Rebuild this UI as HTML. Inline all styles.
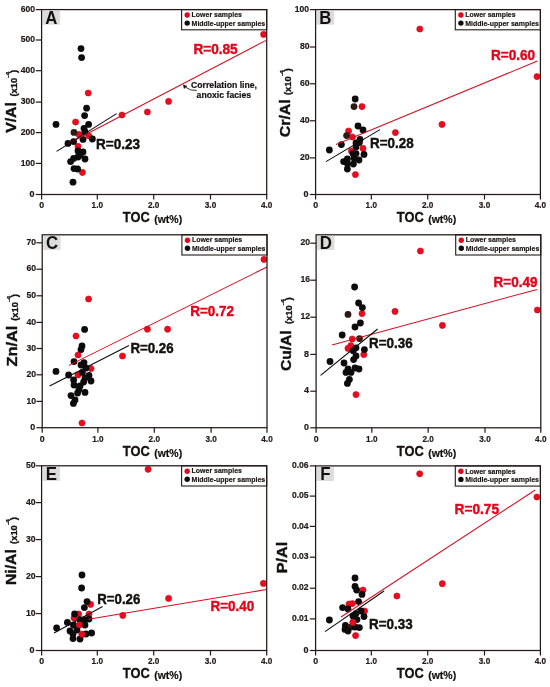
<!DOCTYPE html>
<html lang="en">
<head>
<meta charset="utf-8">
<title>Element/Al ratios versus TOC</title>
<style>
html,body{margin:0;padding:0;background:#fff;}
body{width:550px;height:687px;overflow:hidden;}
svg{display:block;font-family:"Liberation Sans", Arial, Helvetica, sans-serif;font-weight:bold;}
</style>
</head>
<body>
<svg width="550" height="687" viewBox="0 0 550 687">
<rect width="550" height="687" fill="#ffffff"/>
<rect x="41.6" y="9.6" width="225.1" height="184.9" fill="#fff"/>
<rect x="42.6" y="10.9" width="17.3" height="13.8" fill="#dcdcdc"/>
<text transform="translate(51.4 23.9) scale(0.96 1)" x="0" y="0" font-size="17.5" text-anchor="middle" fill="#15100f">A</text>
<line x1="35.8" y1="9.6" x2="41.6" y2="9.6" stroke="#231815" stroke-width="1.2"/>
<text x="35.1" y="11.8" font-size="9.2" fill="#231815" text-anchor="end" textLength="14.3" lengthAdjust="spacingAndGlyphs" stroke="#231815" stroke-width="0.2">600</text>
<line x1="35.8" y1="40.0" x2="41.6" y2="40.0" stroke="#231815" stroke-width="1.2"/>
<text x="35.1" y="42.2" font-size="9.2" fill="#231815" text-anchor="end" textLength="14.3" lengthAdjust="spacingAndGlyphs" stroke="#231815" stroke-width="0.2">500</text>
<line x1="35.8" y1="70.7" x2="41.6" y2="70.7" stroke="#231815" stroke-width="1.2"/>
<text x="35.1" y="72.9" font-size="9.2" fill="#231815" text-anchor="end" textLength="14.3" lengthAdjust="spacingAndGlyphs" stroke="#231815" stroke-width="0.2">400</text>
<line x1="35.8" y1="102.1" x2="41.6" y2="102.1" stroke="#231815" stroke-width="1.2"/>
<text x="35.1" y="104.3" font-size="9.2" fill="#231815" text-anchor="end" textLength="14.3" lengthAdjust="spacingAndGlyphs" stroke="#231815" stroke-width="0.2">300</text>
<line x1="35.8" y1="132.6" x2="41.6" y2="132.6" stroke="#231815" stroke-width="1.2"/>
<text x="35.1" y="134.8" font-size="9.2" fill="#231815" text-anchor="end" textLength="14.3" lengthAdjust="spacingAndGlyphs" stroke="#231815" stroke-width="0.2">200</text>
<line x1="35.8" y1="163.4" x2="41.6" y2="163.4" stroke="#231815" stroke-width="1.2"/>
<text x="35.1" y="165.6" font-size="9.2" fill="#231815" text-anchor="end" textLength="14.3" lengthAdjust="spacingAndGlyphs" stroke="#231815" stroke-width="0.2">100</text>
<line x1="35.8" y1="194.5" x2="41.6" y2="194.5" stroke="#231815" stroke-width="1.2"/>
<text x="34.6" y="196.7" font-size="9.2" fill="#231815" text-anchor="end" textLength="5.0" lengthAdjust="spacingAndGlyphs" stroke="#231815" stroke-width="0.2">0</text>
<line x1="41.6" y1="194.5" x2="41.6" y2="199.5" stroke="#231815" stroke-width="1.2"/>
<text x="41.6" y="207.9" font-size="9.2" fill="#231815" text-anchor="middle" textLength="4.9" lengthAdjust="spacingAndGlyphs" stroke="#231815" stroke-width="0.2">0</text>
<line x1="97.3" y1="194.5" x2="97.3" y2="199.5" stroke="#231815" stroke-width="1.2"/>
<text x="97.3" y="207.9" font-size="9.2" fill="#231815" text-anchor="middle" textLength="11.4" lengthAdjust="spacingAndGlyphs" stroke="#231815" stroke-width="0.2">1.0</text>
<line x1="153.7" y1="194.5" x2="153.7" y2="199.5" stroke="#231815" stroke-width="1.2"/>
<text x="153.7" y="207.9" font-size="9.2" fill="#231815" text-anchor="middle" textLength="11.4" lengthAdjust="spacingAndGlyphs" stroke="#231815" stroke-width="0.2">2.0</text>
<line x1="210.5" y1="194.5" x2="210.5" y2="199.5" stroke="#231815" stroke-width="1.2"/>
<text x="210.5" y="207.9" font-size="9.2" fill="#231815" text-anchor="middle" textLength="11.4" lengthAdjust="spacingAndGlyphs" stroke="#231815" stroke-width="0.2">3.0</text>
<line x1="266.7" y1="194.5" x2="266.7" y2="199.5" stroke="#231815" stroke-width="1.2"/>
<text x="266.7" y="207.9" font-size="9.2" fill="#231815" text-anchor="middle" textLength="11.4" lengthAdjust="spacingAndGlyphs" stroke="#231815" stroke-width="0.2">4.0</text>
<text x="122.8" y="221.9" font-size="14.0" fill="#15100f" textLength="26.9" lengthAdjust="spacingAndGlyphs" stroke="#15100f" stroke-width="0.3">TOC</text>
<text x="154.2" y="222.8" font-size="11" fill="#15100f" textLength="28.0" lengthAdjust="spacingAndGlyphs" stroke="#15100f" stroke-width="0.2">(wt%)</text>
<text x="15.7" y="132.8" font-size="15.2" fill="#15100f" textLength="30.7" lengthAdjust="spacingAndGlyphs" transform="rotate(-90 15.7 132.8)" stroke="#15100f" stroke-width="0.4">V/Al</text>
<g transform="translate(16.6 96.6) rotate(-90)" fill="#15100f" stroke="#15100f" stroke-width="0.3"><text x="0" y="0" font-size="9.0" textLength="18.7" lengthAdjust="spacingAndGlyphs">(x10</text><text x="18.7" y="-6.6" font-size="5.2" textLength="6.2" lengthAdjust="spacingAndGlyphs" stroke-width="0.2">-4</text><text x="23.6" y="0" font-size="9.0" textLength="3.3" lengthAdjust="spacingAndGlyphs">)</text></g>
<rect x="181.6" y="9.6" width="85.1" height="20.2" fill="#fff" stroke="#231815" stroke-width="1.1"/>
<circle cx="187.2" cy="15.0" r="2.7" fill="#e2051b"/>
<circle cx="187.2" cy="23.1" r="2.7" fill="#0d0b0b"/>
<text x="191.6" y="17.2" font-size="7.6" fill="#15100f" textLength="50.3" lengthAdjust="spacingAndGlyphs" stroke="#15100f" stroke-width="0.15">Lower samples</text>
<text x="191.6" y="25.8" font-size="7.6" fill="#15100f" textLength="73.6" lengthAdjust="spacingAndGlyphs" stroke="#15100f" stroke-width="0.15">Middle-upper samples</text>
<circle cx="88.2" cy="93.0" r="3.1" fill="#eb0a1e" stroke="#c8121f" stroke-width="0.6"/>
<circle cx="75.6" cy="122.0" r="3.1" fill="#eb0a1e" stroke="#c8121f" stroke-width="0.6"/>
<circle cx="79.0" cy="134.4" r="3.1" fill="#eb0a1e" stroke="#c8121f" stroke-width="0.6"/>
<circle cx="89.0" cy="136.0" r="3.1" fill="#eb0a1e" stroke="#c8121f" stroke-width="0.6"/>
<circle cx="78.0" cy="146.4" r="3.1" fill="#eb0a1e" stroke="#c8121f" stroke-width="0.6"/>
<circle cx="82.4" cy="172.4" r="3.1" fill="#eb0a1e" stroke="#c8121f" stroke-width="0.6"/>
<circle cx="122.0" cy="115.0" r="3.1" fill="#eb0a1e" stroke="#c8121f" stroke-width="0.6"/>
<circle cx="147.4" cy="112.0" r="3.1" fill="#eb0a1e" stroke="#c8121f" stroke-width="0.6"/>
<circle cx="168.6" cy="101.4" r="3.1" fill="#eb0a1e" stroke="#c8121f" stroke-width="0.6"/>
<circle cx="263.6" cy="34.4" r="3.1" fill="#eb0a1e" stroke="#c8121f" stroke-width="0.6"/>
<circle cx="81.0" cy="48.6" r="3.4" fill="#0d0b0b"/>
<circle cx="81.6" cy="57.6" r="3.4" fill="#0d0b0b"/>
<circle cx="86.6" cy="108.2" r="3.4" fill="#0d0b0b"/>
<circle cx="84.6" cy="115.6" r="3.4" fill="#0d0b0b"/>
<circle cx="56.0" cy="124.4" r="3.4" fill="#0d0b0b"/>
<circle cx="88.6" cy="124.4" r="3.4" fill="#0d0b0b"/>
<circle cx="84.0" cy="128.4" r="3.4" fill="#0d0b0b"/>
<circle cx="74.0" cy="132.4" r="3.4" fill="#2c1a15"/>
<circle cx="85.0" cy="132.0" r="3.4" fill="#0d0b0b"/>
<circle cx="92.4" cy="139.0" r="3.4" fill="#0d0b0b"/>
<circle cx="83.0" cy="139.4" r="3.4" fill="#0d0b0b"/>
<circle cx="73.6" cy="141.6" r="3.4" fill="#0d0b0b"/>
<circle cx="68.0" cy="143.4" r="3.4" fill="#0d0b0b"/>
<circle cx="78.0" cy="151.0" r="3.4" fill="#0d0b0b"/>
<circle cx="83.0" cy="152.0" r="3.4" fill="#0d0b0b"/>
<circle cx="80.0" cy="155.0" r="3.4" fill="#0d0b0b"/>
<circle cx="78.0" cy="157.0" r="3.4" fill="#0d0b0b"/>
<circle cx="85.0" cy="159.0" r="3.4" fill="#0d0b0b"/>
<circle cx="73.6" cy="158.4" r="3.4" fill="#0d0b0b"/>
<circle cx="70.6" cy="161.6" r="3.4" fill="#0d0b0b"/>
<circle cx="74.0" cy="168.6" r="3.4" fill="#0d0b0b"/>
<circle cx="77.6" cy="169.0" r="3.4" fill="#0d0b0b"/>
<circle cx="73.0" cy="182.2" r="3.4" fill="#0d0b0b"/>
<line x1="68.5" y1="143.5" x2="266.0" y2="40.4" stroke="#d40f1f" stroke-width="1.05"/>
<line x1="56.6" y1="151.4" x2="116.6" y2="113.6" stroke="#0d0b0b" stroke-width="1.1"/>
<rect x="41.6" y="9.6" width="225.1" height="184.9" fill="none" stroke="#231815" stroke-width="1.25"/>
<text x="193.4" y="53.6" font-size="15" fill="#e2051b" textLength="44.2" lengthAdjust="spacingAndGlyphs" stroke="#e2051b" stroke-width="0.45">R=0.85</text>
<text x="96.0" y="149.2" font-size="15" fill="#15100f" textLength="44.0" lengthAdjust="spacingAndGlyphs" stroke="#15100f" stroke-width="0.45">R=0.23</text>
<text x="191.0" y="88.0" font-size="8.9" fill="#15100f" textLength="66.0" lengthAdjust="spacingAndGlyphs" stroke="#15100f" stroke-width="0.2">Correlation line,</text>
<text x="196.6" y="98.4" font-size="8.9" fill="#15100f" textLength="54.5" lengthAdjust="spacingAndGlyphs" stroke="#15100f" stroke-width="0.2">anoxic facies</text>
<path d="M196.8 90.5 Q189.6 90.7 185.7 87.3" fill="none" stroke="#231815" stroke-width="0.9"/>
<path d="M182.9 84.5 L187.4 85.9 L184.0 88.9 Z" fill="#231815"/>
<rect x="315.6" y="9.6" width="224.8" height="184.9" fill="#fff"/>
<rect x="316.6" y="10.9" width="17.3" height="13.8" fill="#dcdcdc"/>
<text transform="translate(325.4 23.9) scale(0.96 1)" x="0" y="0" font-size="17.5" text-anchor="middle" fill="#15100f">B</text>
<line x1="309.8" y1="9.6" x2="315.6" y2="9.6" stroke="#231815" stroke-width="1.2"/>
<text x="309.1" y="11.8" font-size="9.2" fill="#231815" text-anchor="end" textLength="14.3" lengthAdjust="spacingAndGlyphs" stroke="#231815" stroke-width="0.2">100</text>
<line x1="309.8" y1="47.0" x2="315.6" y2="47.0" stroke="#231815" stroke-width="1.2"/>
<text x="309.5" y="49.2" font-size="9.2" fill="#231815" text-anchor="end" textLength="9.6" lengthAdjust="spacingAndGlyphs" stroke="#231815" stroke-width="0.2">80</text>
<line x1="309.8" y1="83.8" x2="315.6" y2="83.8" stroke="#231815" stroke-width="1.2"/>
<text x="309.5" y="86.0" font-size="9.2" fill="#231815" text-anchor="end" textLength="9.6" lengthAdjust="spacingAndGlyphs" stroke="#231815" stroke-width="0.2">60</text>
<line x1="309.8" y1="120.8" x2="315.6" y2="120.8" stroke="#231815" stroke-width="1.2"/>
<text x="309.5" y="123.0" font-size="9.2" fill="#231815" text-anchor="end" textLength="9.6" lengthAdjust="spacingAndGlyphs" stroke="#231815" stroke-width="0.2">40</text>
<line x1="309.8" y1="157.9" x2="315.6" y2="157.9" stroke="#231815" stroke-width="1.2"/>
<text x="309.5" y="160.1" font-size="9.2" fill="#231815" text-anchor="end" textLength="9.6" lengthAdjust="spacingAndGlyphs" stroke="#231815" stroke-width="0.2">20</text>
<line x1="309.8" y1="194.5" x2="315.6" y2="194.5" stroke="#231815" stroke-width="1.2"/>
<text x="308.6" y="196.7" font-size="9.2" fill="#231815" text-anchor="end" textLength="5.0" lengthAdjust="spacingAndGlyphs" stroke="#231815" stroke-width="0.2">0</text>
<line x1="315.6" y1="194.5" x2="315.6" y2="199.5" stroke="#231815" stroke-width="1.2"/>
<text x="315.6" y="207.9" font-size="9.2" fill="#231815" text-anchor="middle" textLength="4.9" lengthAdjust="spacingAndGlyphs" stroke="#231815" stroke-width="0.2">0</text>
<line x1="371.3" y1="194.5" x2="371.3" y2="199.5" stroke="#231815" stroke-width="1.2"/>
<text x="371.3" y="207.9" font-size="9.2" fill="#231815" text-anchor="middle" textLength="11.4" lengthAdjust="spacingAndGlyphs" stroke="#231815" stroke-width="0.2">1.0</text>
<line x1="427.7" y1="194.5" x2="427.7" y2="199.5" stroke="#231815" stroke-width="1.2"/>
<text x="427.7" y="207.9" font-size="9.2" fill="#231815" text-anchor="middle" textLength="11.4" lengthAdjust="spacingAndGlyphs" stroke="#231815" stroke-width="0.2">2.0</text>
<line x1="484.5" y1="194.5" x2="484.5" y2="199.5" stroke="#231815" stroke-width="1.2"/>
<text x="484.5" y="207.9" font-size="9.2" fill="#231815" text-anchor="middle" textLength="11.4" lengthAdjust="spacingAndGlyphs" stroke="#231815" stroke-width="0.2">3.0</text>
<line x1="540.4" y1="194.5" x2="540.4" y2="199.5" stroke="#231815" stroke-width="1.2"/>
<text x="540.4" y="207.9" font-size="9.2" fill="#231815" text-anchor="middle" textLength="11.4" lengthAdjust="spacingAndGlyphs" stroke="#231815" stroke-width="0.2">4.0</text>
<text x="396.8" y="221.9" font-size="14.0" fill="#15100f" textLength="26.9" lengthAdjust="spacingAndGlyphs" stroke="#15100f" stroke-width="0.3">TOC</text>
<text x="428.2" y="222.8" font-size="11" fill="#15100f" textLength="28.0" lengthAdjust="spacingAndGlyphs" stroke="#15100f" stroke-width="0.2">(wt%)</text>
<text x="289.7" y="137.3" font-size="15.2" fill="#15100f" textLength="38.1" lengthAdjust="spacingAndGlyphs" transform="rotate(-90 289.7 137.3)" stroke="#15100f" stroke-width="0.4">Cr/Al</text>
<g transform="translate(290.6 95.0) rotate(-90)" fill="#15100f" stroke="#15100f" stroke-width="0.3"><text x="0" y="0" font-size="9.0" textLength="18.7" lengthAdjust="spacingAndGlyphs">(x10</text><text x="18.7" y="-6.6" font-size="5.2" textLength="6.2" lengthAdjust="spacingAndGlyphs" stroke-width="0.2">-4</text><text x="23.6" y="0" font-size="9.0" textLength="3.3" lengthAdjust="spacingAndGlyphs">)</text></g>
<rect x="455.3" y="9.6" width="85.1" height="20.2" fill="#fff" stroke="#231815" stroke-width="1.1"/>
<circle cx="460.9" cy="15.0" r="2.7" fill="#e2051b"/>
<circle cx="460.9" cy="23.1" r="2.7" fill="#0d0b0b"/>
<text x="465.3" y="17.2" font-size="7.6" fill="#15100f" textLength="50.3" lengthAdjust="spacingAndGlyphs" stroke="#15100f" stroke-width="0.15">Lower samples</text>
<text x="465.3" y="25.8" font-size="7.6" fill="#15100f" textLength="73.6" lengthAdjust="spacingAndGlyphs" stroke="#15100f" stroke-width="0.15">Middle-upper samples</text>
<circle cx="362.0" cy="106.6" r="3.1" fill="#eb0a1e" stroke="#c8121f" stroke-width="0.6"/>
<circle cx="348.6" cy="131.0" r="3.1" fill="#eb0a1e" stroke="#c8121f" stroke-width="0.6"/>
<circle cx="352.4" cy="137.0" r="3.1" fill="#eb0a1e" stroke="#c8121f" stroke-width="0.6"/>
<circle cx="363.0" cy="148.4" r="3.1" fill="#eb0a1e" stroke="#c8121f" stroke-width="0.6"/>
<circle cx="351.4" cy="151.0" r="3.1" fill="#eb0a1e" stroke="#c8121f" stroke-width="0.6"/>
<circle cx="355.4" cy="174.6" r="3.1" fill="#eb0a1e" stroke="#c8121f" stroke-width="0.6"/>
<circle cx="395.4" cy="132.6" r="3.1" fill="#eb0a1e" stroke="#c8121f" stroke-width="0.6"/>
<circle cx="419.8" cy="29.0" r="3.1" fill="#eb0a1e" stroke="#c8121f" stroke-width="0.6"/>
<circle cx="442.0" cy="124.4" r="3.1" fill="#eb0a1e" stroke="#c8121f" stroke-width="0.6"/>
<circle cx="537.0" cy="76.6" r="3.1" fill="#eb0a1e" stroke="#c8121f" stroke-width="0.6"/>
<circle cx="355.2" cy="99.0" r="3.4" fill="#0d0b0b"/>
<circle cx="354.0" cy="106.6" r="3.4" fill="#2c1a15"/>
<circle cx="358.0" cy="126.0" r="3.4" fill="#0d0b0b"/>
<circle cx="363.0" cy="130.0" r="3.4" fill="#0d0b0b"/>
<circle cx="346.6" cy="135.6" r="3.4" fill="#2c1a15"/>
<circle cx="360.0" cy="139.4" r="3.4" fill="#0d0b0b"/>
<circle cx="359.4" cy="142.6" r="3.4" fill="#0d0b0b"/>
<circle cx="356.0" cy="143.0" r="3.4" fill="#0d0b0b"/>
<circle cx="341.4" cy="144.6" r="3.4" fill="#0d0b0b"/>
<circle cx="356.0" cy="147.0" r="3.4" fill="#0d0b0b"/>
<circle cx="329.4" cy="150.0" r="3.4" fill="#0d0b0b"/>
<circle cx="353.0" cy="153.6" r="3.4" fill="#0d0b0b"/>
<circle cx="356.0" cy="153.6" r="3.4" fill="#0d0b0b"/>
<circle cx="364.0" cy="154.4" r="3.4" fill="#0d0b0b"/>
<circle cx="354.0" cy="158.0" r="3.4" fill="#0d0b0b"/>
<circle cx="347.4" cy="159.0" r="3.4" fill="#0d0b0b"/>
<circle cx="359.0" cy="160.0" r="3.4" fill="#0d0b0b"/>
<circle cx="343.6" cy="161.6" r="3.4" fill="#0d0b0b"/>
<circle cx="347.4" cy="163.6" r="3.4" fill="#0d0b0b"/>
<circle cx="353.4" cy="164.0" r="3.4" fill="#0d0b0b"/>
<circle cx="347.4" cy="169.0" r="3.4" fill="#0d0b0b"/>
<line x1="336.0" y1="144.6" x2="537.4" y2="61.0" stroke="#d40f1f" stroke-width="1.05"/>
<line x1="326.0" y1="161.6" x2="380.0" y2="129.6" stroke="#0d0b0b" stroke-width="1.1"/>
<rect x="315.6" y="9.6" width="224.8" height="184.9" fill="none" stroke="#231815" stroke-width="1.25"/>
<text x="490.9" y="60.0" font-size="15" fill="#e2051b" textLength="44.2" lengthAdjust="spacingAndGlyphs" stroke="#e2051b" stroke-width="0.45">R=0.60</text>
<text x="370.0" y="148.4" font-size="15" fill="#15100f" textLength="43.6" lengthAdjust="spacingAndGlyphs" stroke="#15100f" stroke-width="0.45">R=0.28</text>
<rect x="42.2" y="234.8" width="224.8" height="192.9" fill="#fff"/>
<rect x="43.2" y="236.1" width="17.3" height="13.8" fill="#dcdcdc"/>
<text transform="translate(52.0 249.1) scale(0.96 1)" x="0" y="0" font-size="17.5" text-anchor="middle" fill="#15100f">C</text>
<line x1="36.4" y1="242.8" x2="42.2" y2="242.8" stroke="#231815" stroke-width="1.2"/>
<text x="36.1" y="245.0" font-size="9.2" fill="#231815" text-anchor="end" textLength="9.6" lengthAdjust="spacingAndGlyphs" stroke="#231815" stroke-width="0.2">70</text>
<line x1="36.4" y1="269.2" x2="42.2" y2="269.2" stroke="#231815" stroke-width="1.2"/>
<text x="36.1" y="271.4" font-size="9.2" fill="#231815" text-anchor="end" textLength="9.6" lengthAdjust="spacingAndGlyphs" stroke="#231815" stroke-width="0.2">60</text>
<line x1="36.4" y1="295.8" x2="42.2" y2="295.8" stroke="#231815" stroke-width="1.2"/>
<text x="36.1" y="298.0" font-size="9.2" fill="#231815" text-anchor="end" textLength="9.6" lengthAdjust="spacingAndGlyphs" stroke="#231815" stroke-width="0.2">50</text>
<line x1="36.4" y1="322.4" x2="42.2" y2="322.4" stroke="#231815" stroke-width="1.2"/>
<text x="36.1" y="324.6" font-size="9.2" fill="#231815" text-anchor="end" textLength="9.6" lengthAdjust="spacingAndGlyphs" stroke="#231815" stroke-width="0.2">40</text>
<line x1="36.4" y1="348.5" x2="42.2" y2="348.5" stroke="#231815" stroke-width="1.2"/>
<text x="36.1" y="350.7" font-size="9.2" fill="#231815" text-anchor="end" textLength="9.6" lengthAdjust="spacingAndGlyphs" stroke="#231815" stroke-width="0.2">30</text>
<line x1="36.4" y1="374.8" x2="42.2" y2="374.8" stroke="#231815" stroke-width="1.2"/>
<text x="36.1" y="377.0" font-size="9.2" fill="#231815" text-anchor="end" textLength="9.6" lengthAdjust="spacingAndGlyphs" stroke="#231815" stroke-width="0.2">20</text>
<line x1="36.4" y1="401.4" x2="42.2" y2="401.4" stroke="#231815" stroke-width="1.2"/>
<text x="36.1" y="403.6" font-size="9.2" fill="#231815" text-anchor="end" textLength="9.6" lengthAdjust="spacingAndGlyphs" stroke="#231815" stroke-width="0.2">10</text>
<line x1="36.4" y1="427.7" x2="42.2" y2="427.7" stroke="#231815" stroke-width="1.2"/>
<text x="35.2" y="429.9" font-size="9.2" fill="#231815" text-anchor="end" textLength="5.0" lengthAdjust="spacingAndGlyphs" stroke="#231815" stroke-width="0.2">0</text>
<line x1="42.2" y1="427.7" x2="42.2" y2="432.7" stroke="#231815" stroke-width="1.2"/>
<text x="42.2" y="441.6" font-size="9.2" fill="#231815" text-anchor="middle" textLength="4.9" lengthAdjust="spacingAndGlyphs" stroke="#231815" stroke-width="0.2">0</text>
<line x1="97.9" y1="427.7" x2="97.9" y2="432.7" stroke="#231815" stroke-width="1.2"/>
<text x="97.9" y="441.6" font-size="9.2" fill="#231815" text-anchor="middle" textLength="11.4" lengthAdjust="spacingAndGlyphs" stroke="#231815" stroke-width="0.2">1.0</text>
<line x1="154.3" y1="427.7" x2="154.3" y2="432.7" stroke="#231815" stroke-width="1.2"/>
<text x="154.3" y="441.6" font-size="9.2" fill="#231815" text-anchor="middle" textLength="11.4" lengthAdjust="spacingAndGlyphs" stroke="#231815" stroke-width="0.2">2.0</text>
<line x1="211.1" y1="427.7" x2="211.1" y2="432.7" stroke="#231815" stroke-width="1.2"/>
<text x="211.1" y="441.6" font-size="9.2" fill="#231815" text-anchor="middle" textLength="11.4" lengthAdjust="spacingAndGlyphs" stroke="#231815" stroke-width="0.2">3.0</text>
<line x1="267.0" y1="427.7" x2="267.0" y2="432.7" stroke="#231815" stroke-width="1.2"/>
<text x="267.0" y="441.6" font-size="9.2" fill="#231815" text-anchor="middle" textLength="11.4" lengthAdjust="spacingAndGlyphs" stroke="#231815" stroke-width="0.2">4.0</text>
<text x="122.8" y="456.3" font-size="14.0" fill="#15100f" textLength="26.9" lengthAdjust="spacingAndGlyphs" stroke="#15100f" stroke-width="0.3">TOC</text>
<text x="154.2" y="457.2" font-size="11" fill="#15100f" textLength="28.0" lengthAdjust="spacingAndGlyphs" stroke="#15100f" stroke-width="0.2">(wt%)</text>
<text x="16.7" y="366.5" font-size="15.2" fill="#15100f" textLength="40.9" lengthAdjust="spacingAndGlyphs" transform="rotate(-90 16.7 366.5)" stroke="#15100f" stroke-width="0.4">Zn/Al</text>
<g transform="translate(17.6 320.8) rotate(-90)" fill="#15100f" stroke="#15100f" stroke-width="0.3"><text x="0" y="0" font-size="9.0" textLength="18.7" lengthAdjust="spacingAndGlyphs">(x10</text><text x="18.7" y="-6.6" font-size="5.2" textLength="6.2" lengthAdjust="spacingAndGlyphs" stroke-width="0.2">-4</text><text x="23.6" y="0" font-size="9.0" textLength="3.3" lengthAdjust="spacingAndGlyphs">)</text></g>
<rect x="181.9" y="234.8" width="85.1" height="20.2" fill="#fff" stroke="#231815" stroke-width="1.1"/>
<circle cx="187.5" cy="240.2" r="2.7" fill="#e2051b"/>
<circle cx="187.5" cy="248.3" r="2.7" fill="#0d0b0b"/>
<text x="191.9" y="242.4" font-size="7.6" fill="#15100f" textLength="50.3" lengthAdjust="spacingAndGlyphs" stroke="#15100f" stroke-width="0.15">Lower samples</text>
<text x="191.9" y="251.0" font-size="7.6" fill="#15100f" textLength="73.6" lengthAdjust="spacingAndGlyphs" stroke="#15100f" stroke-width="0.15">Middle-upper samples</text>
<circle cx="88.6" cy="299.0" r="3.1" fill="#eb0a1e" stroke="#c8121f" stroke-width="0.6"/>
<circle cx="76.0" cy="336.0" r="3.1" fill="#eb0a1e" stroke="#c8121f" stroke-width="0.6"/>
<circle cx="78.0" cy="355.0" r="3.1" fill="#eb0a1e" stroke="#c8121f" stroke-width="0.6"/>
<circle cx="91.0" cy="368.6" r="3.1" fill="#eb0a1e" stroke="#c8121f" stroke-width="0.6"/>
<circle cx="78.0" cy="375.0" r="3.1" fill="#eb0a1e" stroke="#c8121f" stroke-width="0.6"/>
<circle cx="82.0" cy="423.0" r="3.1" fill="#eb0a1e" stroke="#c8121f" stroke-width="0.6"/>
<circle cx="122.5" cy="356.0" r="3.1" fill="#eb0a1e" stroke="#c8121f" stroke-width="0.6"/>
<circle cx="147.4" cy="329.2" r="3.1" fill="#eb0a1e" stroke="#c8121f" stroke-width="0.6"/>
<circle cx="167.6" cy="329.2" r="3.1" fill="#eb0a1e" stroke="#c8121f" stroke-width="0.6"/>
<circle cx="264.0" cy="259.4" r="3.1" fill="#eb0a1e" stroke="#c8121f" stroke-width="0.6"/>
<circle cx="84.6" cy="329.4" r="3.4" fill="#0d0b0b"/>
<circle cx="82.0" cy="346.0" r="3.4" fill="#0d0b0b"/>
<circle cx="81.0" cy="349.6" r="3.4" fill="#0d0b0b"/>
<circle cx="74.0" cy="361.6" r="3.4" fill="#0d0b0b"/>
<circle cx="84.0" cy="362.6" r="3.4" fill="#0d0b0b"/>
<circle cx="81.0" cy="365.0" r="3.4" fill="#0d0b0b"/>
<circle cx="86.0" cy="368.0" r="3.4" fill="#0d0b0b"/>
<circle cx="56.0" cy="371.4" r="3.4" fill="#0d0b0b"/>
<circle cx="82.4" cy="372.4" r="3.4" fill="#0d0b0b"/>
<circle cx="68.6" cy="375.0" r="3.4" fill="#0d0b0b"/>
<circle cx="89.0" cy="375.4" r="3.4" fill="#0d0b0b"/>
<circle cx="85.0" cy="378.0" r="3.4" fill="#0d0b0b"/>
<circle cx="73.6" cy="380.0" r="3.4" fill="#0d0b0b"/>
<circle cx="91.0" cy="381.0" r="3.4" fill="#0d0b0b"/>
<circle cx="83.6" cy="382.0" r="3.4" fill="#0d0b0b"/>
<circle cx="74.0" cy="385.0" r="3.4" fill="#0d0b0b"/>
<circle cx="80.0" cy="386.0" r="3.4" fill="#0d0b0b"/>
<circle cx="79.0" cy="389.4" r="3.4" fill="#0d0b0b"/>
<circle cx="85.0" cy="392.4" r="3.4" fill="#0d0b0b"/>
<circle cx="77.6" cy="393.0" r="3.4" fill="#0d0b0b"/>
<circle cx="71.0" cy="395.6" r="3.4" fill="#0d0b0b"/>
<circle cx="75.0" cy="400.0" r="3.4" fill="#0d0b0b"/>
<circle cx="73.4" cy="403.4" r="3.4" fill="#0d0b0b"/>
<line x1="69.0" y1="365.4" x2="267.0" y2="267.0" stroke="#d40f1f" stroke-width="1.05"/>
<line x1="49.6" y1="386.0" x2="129.0" y2="345.6" stroke="#0d0b0b" stroke-width="1.1"/>
<rect x="42.2" y="234.8" width="224.8" height="192.9" fill="none" stroke="#231815" stroke-width="1.25"/>
<text x="190.2" y="316.2" font-size="15" fill="#e2051b" textLength="43.7" lengthAdjust="spacingAndGlyphs" stroke="#e2051b" stroke-width="0.45">R=0.72</text>
<text x="130.4" y="353.1" font-size="15" fill="#15100f" textLength="43.2" lengthAdjust="spacingAndGlyphs" stroke="#15100f" stroke-width="0.45">R=0.26</text>
<rect x="316.1" y="234.8" width="224.7" height="193.0" fill="#fff"/>
<rect x="317.1" y="236.1" width="17.3" height="13.8" fill="#dcdcdc"/>
<text transform="translate(325.9 249.1) scale(0.96 1)" x="0" y="0" font-size="17.5" text-anchor="middle" fill="#15100f">D</text>
<line x1="310.3" y1="243.2" x2="316.1" y2="243.2" stroke="#231815" stroke-width="1.2"/>
<text x="310.0" y="245.4" font-size="9.2" fill="#231815" text-anchor="end" textLength="9.6" lengthAdjust="spacingAndGlyphs" stroke="#231815" stroke-width="0.2">20</text>
<line x1="310.3" y1="280.2" x2="316.1" y2="280.2" stroke="#231815" stroke-width="1.2"/>
<text x="310.0" y="282.4" font-size="9.2" fill="#231815" text-anchor="end" textLength="9.6" lengthAdjust="spacingAndGlyphs" stroke="#231815" stroke-width="0.2">16</text>
<line x1="310.3" y1="317.2" x2="316.1" y2="317.2" stroke="#231815" stroke-width="1.2"/>
<text x="310.0" y="319.4" font-size="9.2" fill="#231815" text-anchor="end" textLength="9.6" lengthAdjust="spacingAndGlyphs" stroke="#231815" stroke-width="0.2">12</text>
<line x1="310.3" y1="354.4" x2="316.1" y2="354.4" stroke="#231815" stroke-width="1.2"/>
<text x="309.1" y="356.6" font-size="9.2" fill="#231815" text-anchor="end" textLength="5.0" lengthAdjust="spacingAndGlyphs" stroke="#231815" stroke-width="0.2">8</text>
<line x1="310.3" y1="391.2" x2="316.1" y2="391.2" stroke="#231815" stroke-width="1.2"/>
<text x="309.1" y="393.4" font-size="9.2" fill="#231815" text-anchor="end" textLength="5.0" lengthAdjust="spacingAndGlyphs" stroke="#231815" stroke-width="0.2">4</text>
<line x1="310.3" y1="427.8" x2="316.1" y2="427.8" stroke="#231815" stroke-width="1.2"/>
<text x="309.1" y="430.0" font-size="9.2" fill="#231815" text-anchor="end" textLength="5.0" lengthAdjust="spacingAndGlyphs" stroke="#231815" stroke-width="0.2">0</text>
<line x1="316.1" y1="427.8" x2="316.1" y2="432.8" stroke="#231815" stroke-width="1.2"/>
<text x="316.1" y="441.6" font-size="9.2" fill="#231815" text-anchor="middle" textLength="4.9" lengthAdjust="spacingAndGlyphs" stroke="#231815" stroke-width="0.2">0</text>
<line x1="371.8" y1="427.8" x2="371.8" y2="432.8" stroke="#231815" stroke-width="1.2"/>
<text x="371.8" y="441.6" font-size="9.2" fill="#231815" text-anchor="middle" textLength="11.4" lengthAdjust="spacingAndGlyphs" stroke="#231815" stroke-width="0.2">1.0</text>
<line x1="428.2" y1="427.8" x2="428.2" y2="432.8" stroke="#231815" stroke-width="1.2"/>
<text x="428.2" y="441.6" font-size="9.2" fill="#231815" text-anchor="middle" textLength="11.4" lengthAdjust="spacingAndGlyphs" stroke="#231815" stroke-width="0.2">2.0</text>
<line x1="485.0" y1="427.8" x2="485.0" y2="432.8" stroke="#231815" stroke-width="1.2"/>
<text x="485.0" y="441.6" font-size="9.2" fill="#231815" text-anchor="middle" textLength="11.4" lengthAdjust="spacingAndGlyphs" stroke="#231815" stroke-width="0.2">3.0</text>
<line x1="540.8" y1="427.8" x2="540.8" y2="432.8" stroke="#231815" stroke-width="1.2"/>
<text x="540.8" y="441.6" font-size="9.2" fill="#231815" text-anchor="middle" textLength="11.4" lengthAdjust="spacingAndGlyphs" stroke="#231815" stroke-width="0.2">4.0</text>
<text x="396.8" y="456.3" font-size="14.0" fill="#15100f" textLength="26.9" lengthAdjust="spacingAndGlyphs" stroke="#15100f" stroke-width="0.3">TOC</text>
<text x="428.2" y="457.2" font-size="11" fill="#15100f" textLength="28.0" lengthAdjust="spacingAndGlyphs" stroke="#15100f" stroke-width="0.2">(wt%)</text>
<text x="290.6" y="371.0" font-size="15.2" fill="#15100f" textLength="40.7" lengthAdjust="spacingAndGlyphs" transform="rotate(-90 290.6 371.0)" stroke="#15100f" stroke-width="0.4">Cu/Al</text>
<g transform="translate(291.5 324.1) rotate(-90)" fill="#15100f" stroke="#15100f" stroke-width="0.3"><text x="0" y="0" font-size="9.0" textLength="18.7" lengthAdjust="spacingAndGlyphs">(x10</text><text x="18.7" y="-6.6" font-size="5.2" textLength="6.2" lengthAdjust="spacingAndGlyphs" stroke-width="0.2">-4</text><text x="23.6" y="0" font-size="9.0" textLength="3.3" lengthAdjust="spacingAndGlyphs">)</text></g>
<rect x="455.7" y="234.8" width="85.1" height="20.2" fill="#fff" stroke="#231815" stroke-width="1.1"/>
<circle cx="461.3" cy="240.2" r="2.7" fill="#e2051b"/>
<circle cx="461.3" cy="248.3" r="2.7" fill="#0d0b0b"/>
<text x="465.7" y="242.4" font-size="7.6" fill="#15100f" textLength="50.3" lengthAdjust="spacingAndGlyphs" stroke="#15100f" stroke-width="0.15">Lower samples</text>
<text x="465.7" y="251.0" font-size="7.6" fill="#15100f" textLength="73.6" lengthAdjust="spacingAndGlyphs" stroke="#15100f" stroke-width="0.15">Middle-upper samples</text>
<circle cx="362.0" cy="313.6" r="3.1" fill="#eb0a1e" stroke="#c8121f" stroke-width="0.6"/>
<circle cx="352.2" cy="339.0" r="3.1" fill="#eb0a1e" stroke="#c8121f" stroke-width="0.6"/>
<circle cx="350.8" cy="345.5" r="3.1" fill="#eb0a1e" stroke="#c8121f" stroke-width="0.6"/>
<circle cx="348.0" cy="348.4" r="3.1" fill="#eb0a1e" stroke="#c8121f" stroke-width="0.6"/>
<circle cx="363.8" cy="354.6" r="3.1" fill="#eb0a1e" stroke="#c8121f" stroke-width="0.6"/>
<circle cx="356.0" cy="394.6" r="3.1" fill="#eb0a1e" stroke="#c8121f" stroke-width="0.6"/>
<circle cx="395.0" cy="311.4" r="3.1" fill="#eb0a1e" stroke="#c8121f" stroke-width="0.6"/>
<circle cx="420.4" cy="251.0" r="3.1" fill="#eb0a1e" stroke="#c8121f" stroke-width="0.6"/>
<circle cx="442.4" cy="325.4" r="3.1" fill="#eb0a1e" stroke="#c8121f" stroke-width="0.6"/>
<circle cx="537.4" cy="310.0" r="3.1" fill="#eb0a1e" stroke="#c8121f" stroke-width="0.6"/>
<circle cx="354.6" cy="287.0" r="3.4" fill="#0d0b0b"/>
<circle cx="358.6" cy="303.0" r="3.4" fill="#0d0b0b"/>
<circle cx="362.4" cy="307.6" r="3.4" fill="#0d0b0b"/>
<circle cx="348.0" cy="314.4" r="3.4" fill="#2c1a15"/>
<circle cx="360.4" cy="323.0" r="3.4" fill="#0d0b0b"/>
<circle cx="355.0" cy="327.0" r="3.4" fill="#0d0b0b"/>
<circle cx="342.2" cy="335.0" r="3.4" fill="#0d0b0b"/>
<circle cx="359.5" cy="338.6" r="3.4" fill="#2c1a15"/>
<circle cx="356.0" cy="347.8" r="3.4" fill="#0d0b0b"/>
<circle cx="364.4" cy="349.6" r="3.4" fill="#0d0b0b"/>
<circle cx="353.2" cy="350.8" r="3.4" fill="#0d0b0b"/>
<circle cx="356.0" cy="356.0" r="3.4" fill="#0d0b0b"/>
<circle cx="330.0" cy="361.5" r="3.4" fill="#0d0b0b"/>
<circle cx="353.6" cy="359.6" r="3.4" fill="#0d0b0b"/>
<circle cx="344.0" cy="363.0" r="3.4" fill="#0d0b0b"/>
<circle cx="348.0" cy="369.0" r="3.4" fill="#0d0b0b"/>
<circle cx="355.0" cy="368.0" r="3.4" fill="#0d0b0b"/>
<circle cx="359.0" cy="369.0" r="3.4" fill="#0d0b0b"/>
<circle cx="346.0" cy="372.4" r="3.4" fill="#0d0b0b"/>
<circle cx="351.0" cy="372.4" r="3.4" fill="#0d0b0b"/>
<circle cx="349.4" cy="379.4" r="3.4" fill="#0d0b0b"/>
<circle cx="347.4" cy="383.4" r="3.4" fill="#0d0b0b"/>
<line x1="332.0" y1="345.0" x2="537.0" y2="289.4" stroke="#d40f1f" stroke-width="1.05"/>
<line x1="320.6" y1="375.4" x2="377.6" y2="329.0" stroke="#0d0b0b" stroke-width="1.1"/>
<rect x="316.1" y="234.8" width="224.7" height="193.0" fill="none" stroke="#231815" stroke-width="1.25"/>
<text x="493.6" y="287.2" font-size="15" fill="#e2051b" textLength="44.0" lengthAdjust="spacingAndGlyphs" stroke="#e2051b" stroke-width="0.45">R=0.49</text>
<text x="369.1" y="348.2" font-size="15" fill="#15100f" textLength="43.6" lengthAdjust="spacingAndGlyphs" stroke="#15100f" stroke-width="0.45">R=0.36</text>
<rect x="41.6" y="465.8" width="225.1" height="184.7" fill="#fff"/>
<rect x="42.6" y="467.1" width="17.3" height="13.8" fill="#dcdcdc"/>
<text transform="translate(51.4 480.1) scale(0.96 1)" x="0" y="0" font-size="17.5" text-anchor="middle" fill="#15100f">E</text>
<line x1="35.8" y1="465.8" x2="41.6" y2="465.8" stroke="#231815" stroke-width="1.2"/>
<text x="35.5" y="468.0" font-size="9.2" fill="#231815" text-anchor="end" textLength="9.6" lengthAdjust="spacingAndGlyphs" stroke="#231815" stroke-width="0.2">50</text>
<line x1="35.8" y1="502.6" x2="41.6" y2="502.6" stroke="#231815" stroke-width="1.2"/>
<text x="35.5" y="504.8" font-size="9.2" fill="#231815" text-anchor="end" textLength="9.6" lengthAdjust="spacingAndGlyphs" stroke="#231815" stroke-width="0.2">40</text>
<line x1="35.8" y1="539.6" x2="41.6" y2="539.6" stroke="#231815" stroke-width="1.2"/>
<text x="35.5" y="541.8" font-size="9.2" fill="#231815" text-anchor="end" textLength="9.6" lengthAdjust="spacingAndGlyphs" stroke="#231815" stroke-width="0.2">30</text>
<line x1="35.8" y1="576.6" x2="41.6" y2="576.6" stroke="#231815" stroke-width="1.2"/>
<text x="35.5" y="578.8" font-size="9.2" fill="#231815" text-anchor="end" textLength="9.6" lengthAdjust="spacingAndGlyphs" stroke="#231815" stroke-width="0.2">20</text>
<line x1="35.8" y1="613.6" x2="41.6" y2="613.6" stroke="#231815" stroke-width="1.2"/>
<text x="35.5" y="615.8" font-size="9.2" fill="#231815" text-anchor="end" textLength="9.6" lengthAdjust="spacingAndGlyphs" stroke="#231815" stroke-width="0.2">10</text>
<line x1="35.8" y1="650.5" x2="41.6" y2="650.5" stroke="#231815" stroke-width="1.2"/>
<text x="34.6" y="652.7" font-size="9.2" fill="#231815" text-anchor="end" textLength="5.0" lengthAdjust="spacingAndGlyphs" stroke="#231815" stroke-width="0.2">0</text>
<line x1="41.6" y1="650.5" x2="41.6" y2="655.5" stroke="#231815" stroke-width="1.2"/>
<text x="41.6" y="664.0" font-size="9.2" fill="#231815" text-anchor="middle" textLength="4.9" lengthAdjust="spacingAndGlyphs" stroke="#231815" stroke-width="0.2">0</text>
<line x1="97.3" y1="650.5" x2="97.3" y2="655.5" stroke="#231815" stroke-width="1.2"/>
<text x="97.3" y="664.0" font-size="9.2" fill="#231815" text-anchor="middle" textLength="11.4" lengthAdjust="spacingAndGlyphs" stroke="#231815" stroke-width="0.2">1.0</text>
<line x1="153.7" y1="650.5" x2="153.7" y2="655.5" stroke="#231815" stroke-width="1.2"/>
<text x="153.7" y="664.0" font-size="9.2" fill="#231815" text-anchor="middle" textLength="11.4" lengthAdjust="spacingAndGlyphs" stroke="#231815" stroke-width="0.2">2.0</text>
<line x1="210.5" y1="650.5" x2="210.5" y2="655.5" stroke="#231815" stroke-width="1.2"/>
<text x="210.5" y="664.0" font-size="9.2" fill="#231815" text-anchor="middle" textLength="11.4" lengthAdjust="spacingAndGlyphs" stroke="#231815" stroke-width="0.2">3.0</text>
<line x1="266.7" y1="650.5" x2="266.7" y2="655.5" stroke="#231815" stroke-width="1.2"/>
<text x="266.7" y="664.0" font-size="9.2" fill="#231815" text-anchor="middle" textLength="11.4" lengthAdjust="spacingAndGlyphs" stroke="#231815" stroke-width="0.2">4.0</text>
<text x="122.8" y="678.1" font-size="14.0" fill="#15100f" textLength="26.9" lengthAdjust="spacingAndGlyphs" stroke="#15100f" stroke-width="0.3">TOC</text>
<text x="154.2" y="679.0" font-size="11" fill="#15100f" textLength="28.0" lengthAdjust="spacingAndGlyphs" stroke="#15100f" stroke-width="0.2">(wt%)</text>
<text x="16.1" y="585.0" font-size="15.2" fill="#15100f" textLength="35.9" lengthAdjust="spacingAndGlyphs" transform="rotate(-90 16.1 585.0)" stroke="#15100f" stroke-width="0.4">Ni/Al</text>
<g transform="translate(17.0 543.9) rotate(-90)" fill="#15100f" stroke="#15100f" stroke-width="0.3"><text x="0" y="0" font-size="9.0" textLength="18.7" lengthAdjust="spacingAndGlyphs">(x10</text><text x="18.7" y="-6.6" font-size="5.2" textLength="6.2" lengthAdjust="spacingAndGlyphs" stroke-width="0.2">-4</text><text x="23.6" y="0" font-size="9.0" textLength="3.3" lengthAdjust="spacingAndGlyphs">)</text></g>
<rect x="181.6" y="465.8" width="85.1" height="20.2" fill="#fff" stroke="#231815" stroke-width="1.1"/>
<circle cx="187.2" cy="471.2" r="2.7" fill="#e2051b"/>
<circle cx="187.2" cy="479.3" r="2.7" fill="#0d0b0b"/>
<text x="191.6" y="473.4" font-size="7.6" fill="#15100f" textLength="50.3" lengthAdjust="spacingAndGlyphs" stroke="#15100f" stroke-width="0.15">Lower samples</text>
<text x="191.6" y="482.0" font-size="7.6" fill="#15100f" textLength="73.6" lengthAdjust="spacingAndGlyphs" stroke="#15100f" stroke-width="0.15">Middle-upper samples</text>
<circle cx="90.6" cy="604.4" r="3.1" fill="#eb0a1e" stroke="#c8121f" stroke-width="0.6"/>
<circle cx="78.6" cy="614.0" r="3.1" fill="#eb0a1e" stroke="#c8121f" stroke-width="0.6"/>
<circle cx="89.0" cy="614.0" r="3.1" fill="#eb0a1e" stroke="#c8121f" stroke-width="0.6"/>
<circle cx="74.0" cy="618.0" r="3.1" fill="#eb0a1e" stroke="#c8121f" stroke-width="0.6"/>
<circle cx="79.4" cy="625.0" r="3.1" fill="#eb0a1e" stroke="#c8121f" stroke-width="0.6"/>
<circle cx="82.0" cy="634.4" r="3.1" fill="#eb0a1e" stroke="#c8121f" stroke-width="0.6"/>
<circle cx="122.8" cy="615.4" r="3.1" fill="#eb0a1e" stroke="#c8121f" stroke-width="0.6"/>
<circle cx="148.1" cy="469.3" r="3.1" fill="#eb0a1e" stroke="#c8121f" stroke-width="0.6"/>
<circle cx="168.6" cy="598.4" r="3.1" fill="#eb0a1e" stroke="#c8121f" stroke-width="0.6"/>
<circle cx="263.4" cy="583.4" r="3.1" fill="#eb0a1e" stroke="#c8121f" stroke-width="0.6"/>
<circle cx="82.0" cy="575.0" r="3.4" fill="#0d0b0b"/>
<circle cx="81.6" cy="588.0" r="3.4" fill="#0d0b0b"/>
<circle cx="87.0" cy="601.6" r="3.4" fill="#0d0b0b"/>
<circle cx="84.4" cy="607.6" r="3.4" fill="#0d0b0b"/>
<circle cx="74.6" cy="614.0" r="3.4" fill="#0d0b0b"/>
<circle cx="80.0" cy="619.6" r="3.4" fill="#0d0b0b"/>
<circle cx="84.4" cy="619.6" r="3.4" fill="#0d0b0b"/>
<circle cx="89.0" cy="619.0" r="3.4" fill="#0d0b0b"/>
<circle cx="67.4" cy="622.4" r="3.4" fill="#0d0b0b"/>
<circle cx="73.4" cy="625.0" r="3.4" fill="#0d0b0b"/>
<circle cx="85.0" cy="625.0" r="3.4" fill="#0d0b0b"/>
<circle cx="56.6" cy="628.0" r="3.4" fill="#0d0b0b"/>
<circle cx="70.0" cy="631.0" r="3.4" fill="#0d0b0b"/>
<circle cx="77.0" cy="630.0" r="3.4" fill="#0d0b0b"/>
<circle cx="73.0" cy="634.0" r="3.4" fill="#0d0b0b"/>
<circle cx="91.6" cy="633.0" r="3.4" fill="#0d0b0b"/>
<circle cx="86.0" cy="634.0" r="3.4" fill="#0d0b0b"/>
<circle cx="73.0" cy="638.6" r="3.4" fill="#0d0b0b"/>
<circle cx="80.0" cy="639.0" r="3.4" fill="#0d0b0b"/>
<circle cx="79.4" cy="624.8" r="3.1" fill="#eb0a1e" stroke="#c8121f" stroke-width="0.6"/>
<circle cx="82.0" cy="634.3" r="3.1" fill="#eb0a1e" stroke="#c8121f" stroke-width="0.6"/>
<line x1="88.5" y1="619.3" x2="266.6" y2="589.5" stroke="#d40f1f" stroke-width="1.05"/>
<line x1="54.0" y1="633.0" x2="102.6" y2="606.4" stroke="#0d0b0b" stroke-width="1.1"/>
<rect x="41.6" y="465.8" width="225.1" height="184.7" fill="none" stroke="#231815" stroke-width="1.25"/>
<text x="210.5" y="611.0" font-size="15" fill="#e2051b" textLength="43.7" lengthAdjust="spacingAndGlyphs" stroke="#e2051b" stroke-width="0.45">R=0.40</text>
<text x="97.3" y="604.0" font-size="15" fill="#15100f" textLength="43.0" lengthAdjust="spacingAndGlyphs" stroke="#15100f" stroke-width="0.45">R=0.26</text>
<rect x="315.6" y="465.9" width="224.8" height="184.6" fill="#fff"/>
<rect x="316.6" y="467.2" width="17.3" height="13.8" fill="#dcdcdc"/>
<text transform="translate(325.4 480.2) scale(0.96 1)" x="0" y="0" font-size="17.5" text-anchor="middle" fill="#15100f">F</text>
<line x1="309.8" y1="465.9" x2="315.6" y2="465.9" stroke="#231815" stroke-width="1.2"/>
<text x="308.6" y="468.1" font-size="9.2" fill="#231815" text-anchor="end" textLength="16.7" lengthAdjust="spacingAndGlyphs" stroke="#231815" stroke-width="0.2">0.06</text>
<line x1="309.8" y1="496.1" x2="315.6" y2="496.1" stroke="#231815" stroke-width="1.2"/>
<text x="308.6" y="498.3" font-size="9.2" fill="#231815" text-anchor="end" textLength="16.7" lengthAdjust="spacingAndGlyphs" stroke="#231815" stroke-width="0.2">0.05</text>
<line x1="309.8" y1="526.4" x2="315.6" y2="526.4" stroke="#231815" stroke-width="1.2"/>
<text x="308.6" y="528.6" font-size="9.2" fill="#231815" text-anchor="end" textLength="16.7" lengthAdjust="spacingAndGlyphs" stroke="#231815" stroke-width="0.2">0.04</text>
<line x1="309.8" y1="557.2" x2="315.6" y2="557.2" stroke="#231815" stroke-width="1.2"/>
<text x="308.6" y="559.4" font-size="9.2" fill="#231815" text-anchor="end" textLength="16.7" lengthAdjust="spacingAndGlyphs" stroke="#231815" stroke-width="0.2">0.03</text>
<line x1="309.8" y1="588.2" x2="315.6" y2="588.2" stroke="#231815" stroke-width="1.2"/>
<text x="308.6" y="590.4" font-size="9.2" fill="#231815" text-anchor="end" textLength="16.7" lengthAdjust="spacingAndGlyphs" stroke="#231815" stroke-width="0.2">0.02</text>
<line x1="309.8" y1="618.9" x2="315.6" y2="618.9" stroke="#231815" stroke-width="1.2"/>
<text x="308.6" y="621.1" font-size="9.2" fill="#231815" text-anchor="end" textLength="16.7" lengthAdjust="spacingAndGlyphs" stroke="#231815" stroke-width="0.2">0.01</text>
<line x1="309.8" y1="650.5" x2="315.6" y2="650.5" stroke="#231815" stroke-width="1.2"/>
<text x="308.6" y="652.7" font-size="9.2" fill="#231815" text-anchor="end" textLength="5.0" lengthAdjust="spacingAndGlyphs" stroke="#231815" stroke-width="0.2">0</text>
<line x1="315.6" y1="650.5" x2="315.6" y2="655.5" stroke="#231815" stroke-width="1.2"/>
<text x="315.6" y="664.0" font-size="9.2" fill="#231815" text-anchor="middle" textLength="4.9" lengthAdjust="spacingAndGlyphs" stroke="#231815" stroke-width="0.2">0</text>
<line x1="371.3" y1="650.5" x2="371.3" y2="655.5" stroke="#231815" stroke-width="1.2"/>
<text x="371.3" y="664.0" font-size="9.2" fill="#231815" text-anchor="middle" textLength="11.4" lengthAdjust="spacingAndGlyphs" stroke="#231815" stroke-width="0.2">1.0</text>
<line x1="427.7" y1="650.5" x2="427.7" y2="655.5" stroke="#231815" stroke-width="1.2"/>
<text x="427.7" y="664.0" font-size="9.2" fill="#231815" text-anchor="middle" textLength="11.4" lengthAdjust="spacingAndGlyphs" stroke="#231815" stroke-width="0.2">2.0</text>
<line x1="484.5" y1="650.5" x2="484.5" y2="655.5" stroke="#231815" stroke-width="1.2"/>
<text x="484.5" y="664.0" font-size="9.2" fill="#231815" text-anchor="middle" textLength="11.4" lengthAdjust="spacingAndGlyphs" stroke="#231815" stroke-width="0.2">3.0</text>
<line x1="540.4" y1="650.5" x2="540.4" y2="655.5" stroke="#231815" stroke-width="1.2"/>
<text x="540.4" y="664.0" font-size="9.2" fill="#231815" text-anchor="middle" textLength="11.4" lengthAdjust="spacingAndGlyphs" stroke="#231815" stroke-width="0.2">4.0</text>
<text x="396.8" y="678.1" font-size="14.0" fill="#15100f" textLength="26.9" lengthAdjust="spacingAndGlyphs" stroke="#15100f" stroke-width="0.3">TOC</text>
<text x="428.2" y="679.0" font-size="11" fill="#15100f" textLength="28.0" lengthAdjust="spacingAndGlyphs" stroke="#15100f" stroke-width="0.2">(wt%)</text>
<text x="286.8" y="573.2" font-size="15.2" fill="#15100f" textLength="31.4" lengthAdjust="spacingAndGlyphs" transform="rotate(-90 286.8 573.2)" stroke="#15100f" stroke-width="0.4">P/Al</text>
<rect x="455.3" y="465.9" width="85.1" height="20.2" fill="#fff" stroke="#231815" stroke-width="1.1"/>
<circle cx="460.9" cy="471.3" r="2.7" fill="#e2051b"/>
<circle cx="460.9" cy="479.4" r="2.7" fill="#0d0b0b"/>
<text x="465.3" y="473.5" font-size="7.6" fill="#15100f" textLength="50.3" lengthAdjust="spacingAndGlyphs" stroke="#15100f" stroke-width="0.15">Lower samples</text>
<text x="465.3" y="482.1" font-size="7.6" fill="#15100f" textLength="73.6" lengthAdjust="spacingAndGlyphs" stroke="#15100f" stroke-width="0.15">Middle-upper samples</text>
<circle cx="363.0" cy="590.0" r="3.1" fill="#eb0a1e" stroke="#c8121f" stroke-width="0.6"/>
<circle cx="349.0" cy="604.0" r="3.1" fill="#eb0a1e" stroke="#c8121f" stroke-width="0.6"/>
<circle cx="352.4" cy="603.6" r="3.1" fill="#eb0a1e" stroke="#c8121f" stroke-width="0.6"/>
<circle cx="364.6" cy="611.0" r="3.1" fill="#eb0a1e" stroke="#c8121f" stroke-width="0.6"/>
<circle cx="353.0" cy="622.0" r="3.1" fill="#eb0a1e" stroke="#c8121f" stroke-width="0.6"/>
<circle cx="355.6" cy="635.6" r="3.1" fill="#eb0a1e" stroke="#c8121f" stroke-width="0.6"/>
<circle cx="396.9" cy="596.0" r="3.1" fill="#eb0a1e" stroke="#c8121f" stroke-width="0.6"/>
<circle cx="419.7" cy="473.8" r="3.1" fill="#eb0a1e" stroke="#c8121f" stroke-width="0.6"/>
<circle cx="442.3" cy="583.7" r="3.1" fill="#eb0a1e" stroke="#c8121f" stroke-width="0.6"/>
<circle cx="536.9" cy="497.0" r="3.1" fill="#eb0a1e" stroke="#c8121f" stroke-width="0.6"/>
<circle cx="355.0" cy="578.0" r="3.4" fill="#0d0b0b"/>
<circle cx="355.0" cy="586.4" r="3.4" fill="#0d0b0b"/>
<circle cx="356.6" cy="590.0" r="3.4" fill="#0d0b0b"/>
<circle cx="362.0" cy="594.4" r="3.4" fill="#0d0b0b"/>
<circle cx="358.6" cy="601.6" r="3.4" fill="#0d0b0b"/>
<circle cx="342.6" cy="607.6" r="3.4" fill="#0d0b0b"/>
<circle cx="348.0" cy="609.0" r="3.4" fill="#0d0b0b"/>
<circle cx="361.0" cy="611.0" r="3.4" fill="#0d0b0b"/>
<circle cx="356.0" cy="613.6" r="3.4" fill="#0d0b0b"/>
<circle cx="364.0" cy="616.6" r="3.4" fill="#0d0b0b"/>
<circle cx="353.0" cy="616.0" r="3.4" fill="#0d0b0b"/>
<circle cx="329.4" cy="620.0" r="3.4" fill="#0d0b0b"/>
<circle cx="357.0" cy="619.6" r="3.4" fill="#0d0b0b"/>
<circle cx="345.4" cy="625.4" r="3.4" fill="#0d0b0b"/>
<circle cx="351.0" cy="627.0" r="3.4" fill="#2c1a15"/>
<circle cx="355.0" cy="627.0" r="3.4" fill="#0d0b0b"/>
<circle cx="359.4" cy="627.6" r="3.4" fill="#0d0b0b"/>
<circle cx="345.0" cy="629.4" r="3.4" fill="#0d0b0b"/>
<circle cx="348.0" cy="631.0" r="3.4" fill="#0d0b0b"/>
<circle cx="353.0" cy="622.4" r="3.1" fill="#eb0a1e" stroke="#c8121f" stroke-width="0.6"/>
<line x1="341.0" y1="617.0" x2="535.2" y2="490.0" stroke="#d40f1f" stroke-width="1.05"/>
<line x1="325.0" y1="631.6" x2="384.0" y2="591.0" stroke="#0d0b0b" stroke-width="1.1"/>
<rect x="315.6" y="465.9" width="224.8" height="184.6" fill="none" stroke="#231815" stroke-width="1.25"/>
<text x="454.5" y="514.0" font-size="15" fill="#e2051b" textLength="44.6" lengthAdjust="spacingAndGlyphs" stroke="#e2051b" stroke-width="0.45">R=0.75</text>
<text x="369.1" y="628.6" font-size="15" fill="#15100f" textLength="43.6" lengthAdjust="spacingAndGlyphs" stroke="#15100f" stroke-width="0.45">R=0.33</text>
</svg>
</body>
</html>
